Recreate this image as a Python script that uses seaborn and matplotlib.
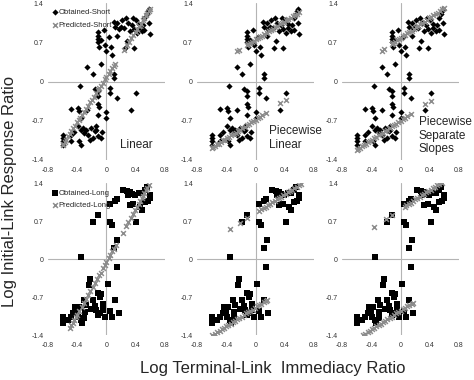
import matplotlib
matplotlib.use("Agg")
import matplotlib.pyplot as plt
import seaborn as sns

# obtained data (same in all panels of a row)
short_x = [-0.11, -0.11, -0.11, -0.11, -0.10, -0.07, -0.03, -0.02, 0.00, 0.04,
           0.06, 0.08, 0.10, 0.12, 0.15, 0.17, 0.15, 0.21, 0.24, 0.27,
           0.30, 0.32, 0.35, 0.38, 0.40, 0.42, 0.45, 0.48, 0.50, 0.52,
           0.55, 0.57, 0.58, 0.60, 0.25, 0.38, 0.28, 0.58, 0.44, 0.52,
           0.20, 0.36,
           -0.26, -0.18, -0.07, -0.36, -0.16, -0.12, 0.05, 0.05, 0.14, 0.41,
           -0.12, -0.10, 0.00, 0.34, 0.11, 0.11, -0.12,
           -0.49, -0.39, -0.38, -0.26, -0.35, -0.12, 0.00, -0.14,
           -0.60, -0.60, -0.60, -0.59, -0.48, -0.49, -0.39, -0.35, -0.32, -0.30,
           -0.28, -0.37, -0.35, -0.25, -0.21, -0.18, -0.16, -0.14, -0.12, -0.08,
           -0.06, -0.22, -0.44]
short_y = [0.88, 0.82, 0.76, 0.70, 0.62, 0.74, 0.92, 0.66, 0.55, 0.80,
           0.62, 0.47, 1.06, 0.98, 1.05, 0.94, 0.82, 1.10, 0.96, 1.13,
           1.04, 0.90, 1.00, 0.94, 1.10, 0.87, 0.95, 0.90, 1.00, 1.14,
           1.20, 1.26, 1.04, 0.84, 0.60, 0.60, 0.72, 1.30, 1.02, 0.92,
           0.98, 1.14,
           0.25, 0.14, 0.31, -0.08, -0.14, -0.17, -0.12, -0.20, -0.29, -0.20,
           -0.41, -0.45, -0.55, -0.50, 0.13, 0.06, -0.26,
           -0.49, -0.48, -0.53, -0.50, -0.65, -0.59, -0.65, -0.80,
           -0.95, -1.00, -1.07, -1.13, -0.95, -1.07, -0.80, -0.86, -0.83, -0.92,
           -0.86, -1.07, -1.13, -0.95, -0.83, -1.00, -0.89, -0.86, -0.98, -1.00,
           -0.90, -1.05, -0.90]

long_x = [0.23, 0.28, 0.32, 0.35, 0.39, 0.44, 0.48, 0.53, 0.55, 0.59,
          0.60, 0.57, 0.53, 0.46, 0.48, 0.41, 0.29, 0.32, 0.37,
          0.05, 0.12, 0.14, -0.12, -0.19, 0.05, 0.07,
          -0.35, 0.14, 0.15, 0.11, 0.02, -0.23, -0.24, -0.12, 0.12, -0.08,
          -0.59, -0.59, -0.52, -0.48, -0.43, -0.41, -0.39, -0.35, -0.34, -0.30,
          -0.29, -0.31, -0.28, -0.18, -0.16, -0.14, -0.12, -0.09, -0.05, -0.05,
          -0.02, 0.05, 0.07, 0.17, -0.37, -0.45, -0.21, -0.09]
long_y = [1.27, 1.26, 1.24, 1.20, 1.18, 1.21, 1.22, 1.27, 1.33, 1.18,
          1.12, 1.07, 1.06, 0.96, 0.90, 0.69, 1.18, 1.00, 1.02,
          1.02, 1.07, 1.10, 0.81, 0.69, 0.69, 0.63,
          0.04, -0.15, 0.35, 0.20, -0.45, -0.37, -0.48, -0.62, -0.75, -0.64,
          -1.06, -1.18, -1.12, -1.06, -0.88, -0.97, -1.06, -1.12, -1.18, -1.09,
          -0.97, -0.75, -0.85, -0.75, -0.87, -0.94, -1.03, -1.00, -0.82, -0.94,
          -1.06, -0.95, -1.06, -1.00, -0.88, -1.00, -0.91, -0.69]

# model predictions, short delays
pred_short_lin_x = [-0.60, -0.59, -0.57, -0.55, -0.52, -0.50, -0.48, -0.45, -0.43, -0.40,
                    -0.38, -0.36, -0.33, -0.31, -0.28, -0.25, -0.22, -0.20, -0.17, -0.14,
                    -0.12, -0.10, -0.08, -0.05, -0.02, 0.00, 0.03, 0.05, 0.08, 0.10,
                    0.12, 0.24, 0.28, 0.31, 0.34, 0.37, 0.40, 0.42, 0.45, 0.47,
                    0.50, 0.52, 0.54, 0.56, 0.58, 0.60]
pred_short_lin_y = [-1.14, -1.12, -1.08, -1.04, -0.98, -0.94, -0.89, -0.83, -0.79, -0.73,
                    -0.69, -0.65, -0.59, -0.55, -0.49, -0.43, -0.37, -0.33, -0.27, -0.20,
                    -0.16, -0.12, -0.08, -0.02, 0.04, 0.08, 0.14, 0.18, 0.24, 0.28,
                    0.32, 0.57, 0.65, 0.71, 0.77, 0.83, 0.89, 0.93, 0.99, 1.03,
                    1.10, 1.14, 1.18, 1.22, 1.26, 1.30]

pw_low_x = [-0.60, -0.58, -0.55, -0.52, -0.50, -0.47, -0.44, -0.42, -0.39, -0.36,
            -0.33, -0.30, -0.27, -0.24, -0.21, -0.18, -0.15, -0.12, -0.09, -0.06,
            -0.03, 0.00, 0.03, 0.06, 0.09, 0.14, 0.34, 0.41]
pw_high_x = [-0.26, -0.22, -0.12, -0.10, -0.08, -0.05, -0.02, 0.00, 0.03, 0.06,
             0.09, 0.12, 0.15, 0.18, 0.21, 0.24, 0.27, 0.30, 0.33, 0.36,
             0.39, 0.42, 0.45, 0.48, 0.51, 0.54, 0.57, 0.60]
pred_short_pw_x = pw_low_x + pw_high_x
pred_short_pw_y = [-1.19, -1.17, -1.15, -1.12, -1.11, -1.08, -1.05, -1.04, -1.01, -0.99,
                   -0.96, -0.94, -0.91, -0.88, -0.86, -0.83, -0.81, -0.78, -0.76, -0.73,
                   -0.71, -0.68, -0.65, -0.63, -0.60, -0.56, -0.39, -0.33,
                   0.54, 0.57, 0.65, 0.67, 0.69, 0.71, 0.73, 0.75, 0.77, 0.80,
                   0.82, 0.85, 0.87, 0.90, 0.92, 0.94, 0.97, 0.99, 1.02, 1.04,
                   1.07, 1.09, 1.11, 1.14, 1.16, 1.19, 1.21, 1.24]
pred_short_ss_x = pw_low_x + pw_high_x
pred_short_ss_y = [-1.22, -1.20, -1.18, -1.15, -1.14, -1.11, -1.08, -1.07, -1.04, -1.01,
                   -0.99, -0.96, -0.93, -0.91, -0.88, -0.86, -0.83, -0.80, -0.78, -0.75,
                   -0.73, -0.70, -0.67, -0.65, -0.62, -0.58, -0.40, -0.34,
                   0.55, 0.58, 0.67, 0.69, 0.71, 0.74, 0.76, 0.78, 0.81, 0.83,
                   0.86, 0.89, 0.91, 0.94, 0.97, 0.99, 1.02, 1.05, 1.07, 1.10,
                   1.13, 1.15, 1.18, 1.21, 1.23, 1.26, 1.29, 1.31]

# model predictions, long delays
pred_long_lin_x = [-0.50, -0.48, -0.46, -0.44, -0.42, -0.40, -0.37, -0.34, -0.31, -0.28,
                   -0.25, -0.22, -0.19, -0.16, -0.13, -0.10, -0.08, -0.05, -0.02, 0.00,
                   0.03, 0.05, 0.08, 0.10, 0.13, 0.22, 0.27, 0.30, 0.33, 0.36,
                   0.39, 0.42, 0.44, 0.46, 0.48, 0.50, 0.52, 0.54, 0.56, 0.58]
pred_long_lin_y = [-1.27, -1.22, -1.17, -1.12, -1.07, -1.03, -0.95, -0.88, -0.81, -0.73,
                   -0.66, -0.59, -0.51, -0.44, -0.37, -0.29, -0.25, -0.17, -0.10, -0.05,
                   0.02, 0.07, 0.15, 0.19, 0.27, 0.49, 0.61, 0.68, 0.76, 0.83,
                   0.90, 0.97, 1.02, 1.07, 1.12, 1.17, 1.22, 1.27, 1.32, 1.37]

pred_long_pw_x = [-0.59, -0.55, -0.52, -0.49, -0.46, -0.43, -0.40, -0.37, -0.34, -0.31,
                  -0.28, -0.25, -0.22, -0.19, -0.16, -0.13, -0.10, -0.07, -0.04, -0.01,
                  0.02, 0.05, 0.08, 0.11, 0.14, 0.16,
                  -0.35, -0.21, -0.12, 0.05, 0.08, 0.11, 0.14, 0.17, 0.20, 0.23,
                  0.26, 0.29, 0.32, 0.35, 0.38, 0.41, 0.44, 0.47, 0.50, 0.53,
                  0.56, 0.59, 0.62]
pred_long_pw_y = [-1.40, -1.37, -1.35, -1.32, -1.29, -1.27, -1.24, -1.22, -1.19, -1.16,
                  -1.14, -1.11, -1.08, -1.06, -1.03, -1.00, -0.98, -0.95, -0.93, -0.90,
                  -0.87, -0.85, -0.82, -0.79, -0.77, -0.75,
                  0.55, 0.67, 0.75, 0.89, 0.92, 0.94, 0.97, 1.00, 1.02, 1.05,
                  1.07, 1.10, 1.13, 1.15, 1.18, 1.20, 1.23, 1.25, 1.28, 1.31,
                  1.33, 1.36, 1.38]

pred_long_ss_x = [-0.51, -0.48, -0.45, -0.42, -0.39, -0.36, -0.33, -0.30, -0.27, -0.24,
                  -0.21, -0.18, -0.15, -0.12, -0.09, -0.06, -0.03, 0.00, 0.03, 0.06,
                  0.09, 0.12, 0.15, 0.17,
                  -0.36, -0.20, -0.11, 0.055, 0.08, 0.11, 0.14, 0.17, 0.20, 0.23,
                  0.26, 0.29, 0.32, 0.35, 0.38, 0.41, 0.44, 0.47, 0.50, 0.53, 0.56]
pred_long_ss_y = [-1.40, -1.37, -1.35, -1.32, -1.29, -1.27, -1.24, -1.21, -1.19, -1.16,
                  -1.13, -1.11, -1.08, -1.06, -1.03, -1.00, -0.98, -0.95, -0.92, -0.90,
                  -0.87, -0.84, -0.82, -0.80,
                  0.60, 0.74, 0.82, 0.97, 0.99, 1.02, 1.04, 1.07, 1.10, 1.12,
                  1.15, 1.18, 1.20, 1.23, 1.25, 1.28, 1.31, 1.33, 1.36, 1.39, 1.41]

x_ticks = [-0.8, -0.4, 0, 0.4, 0.8]
x_tick_labels = ["-0.8", "-0.4", "0", "0.4", "0.8"]
y_ticks = [-1.4, -0.7, 0, 0.7, 1.4]
y_tick_labels = ["-1.4", "-0.7", "0", "0.7", "1.4"]

model_names = ["Linear", "Piecewise\nLinear", "Piecewise\nSeparate\nSlopes"]
short_preds = [(pred_short_lin_x, pred_short_lin_y), (pred_short_pw_x, pred_short_pw_y),
               (pred_short_ss_x, pred_short_ss_y)]
long_preds = [(pred_long_lin_x, pred_long_lin_y), (pred_long_pw_x, pred_long_pw_y),
              (pred_long_ss_x, pred_long_ss_y)]

sns.set_style("white")
plt.rcParams["font.family"] = ["Liberation Sans", "DejaVu Sans"]

fig = plt.figure(figsize=(4.74, 3.8), dpi=100)
lefts = [0.101, 0.4156, 0.7215]
rows = [(0.579, 0.413), (0.118, 0.40)]
label_pos = [(0.18, -1.02), (0.18, -0.78), (0.25, -0.62)]

gray = "#8c8c8c"
for r, (bottom, height) in enumerate(rows):
    for c in range(3):
        ax = fig.add_axes([lefts[c], bottom, 0.247, height])
        ax.axhline(0, color="#b4b4b4", lw=0.8, zorder=0)
        ax.axvline(0, color="#b4b4b4", lw=0.8, zorder=0)
        first = c == 0
        if r == 0:
            px, py = short_preds[c]
            sns.scatterplot(x=short_x, y=short_y, marker="D", color="black", s=10,
                            linewidth=0, ax=ax, label="Obtained-Short" if first else None,
                            legend=False)
            sns.scatterplot(x=px, y=py, marker="x", color=gray, s=12, linewidth=1.1,
                            ax=ax, label="Predicted-Short" if first else None, legend=False)
        else:
            px, py = long_preds[c]
            sns.scatterplot(x=long_x, y=long_y, marker="s", color="black", s=13,
                            linewidth=0, ax=ax, label="Obtained-Long" if first else None,
                            legend=False)
            sns.scatterplot(x=px, y=py, marker="x", color=gray, s=12, linewidth=1.1,
                            ax=ax, label="Predicted-Long" if first else None, legend=False)
        ax.set_xlim(-0.8, 0.8)
        ax.set_ylim(-1.4, 1.4)
        ax.set_xticks(x_ticks)
        ax.set_xticklabels(x_tick_labels)
        ax.set_yticks(y_ticks)
        ax.set_yticklabels(y_tick_labels)
        ax.tick_params(axis="both", length=0, labelsize=5, colors="#333333")
        ax.tick_params(axis="x", pad=5)
        ax.tick_params(axis="y", pad=3)
        for sp in ax.spines.values():
            sp.set_visible(False)
        ax.patch.set_alpha(0)
        if first:
            leg = ax.legend(loc="upper left", bbox_to_anchor=(-0.02, 1.0), frameon=False,
                            fontsize=5.5, handletextpad=0.1, handlelength=0.8,
                            labelspacing=0.7, borderpad=0.3, markerscale=1.0)
            leg.set_zorder(5)
        if r == 0:
            lx, ly = label_pos[c]
            ax.text(lx, ly, model_names[c], fontsize=8.5, va="top", ha="left",
                    linespacing=1.15, clip_on=False)

fig.text(0.02, 0.495, "Log Initial-Link Response Ratio", rotation=90, fontsize=12,
         ha="center", va="center")
fig.text(0.575, 0.03, "Log Terminal-Link  Immediacy Ratio", fontsize=12,
         ha="center", va="center")

fig.savefig("out.png", dpi=100)
